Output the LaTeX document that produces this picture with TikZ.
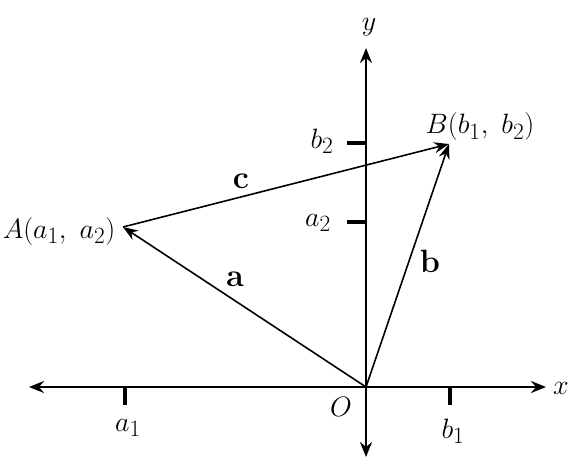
\documentclass[tikz,border=0pt]{standalone}
\usetikzlibrary{arrows.meta}
\begin{document}
\begin{tikzpicture}[x=1bp,y=-1bp,
  font=\fontsize{24.88}{30}\selectfont,
  axis/.style={line width=2.4bp},
  vec/.style={line width=1.6bp,-{Stealth[length=15bp,width=11bp,inset=5bp]}},
  tickmark/.style={line width=4bp},
  lbl/.style={inner sep=0pt,scale=1.13},
  boldlbl/.style={inner sep=0pt,scale=1.3}]
\useasboundingbox (0,0) rectangle (575,467);
\coordinate (O) at (366,387);
\coordinate (xl) at (29,387);
\coordinate (xr) at (546,387);
\coordinate (yt) at (366,48);
\coordinate (yb) at (366,457);
\coordinate (A) at (123,227);
\coordinate (B) at (449,144);
% axes
\draw[axis,{Stealth[length=15bp,width=12bp,inset=5bp]}-{Stealth[length=15bp,width=12bp,inset=5bp]}] (xl) -- (xr);
\draw[axis,{Stealth[length=15bp,width=12bp,inset=5bp]}-{Stealth[length=15bp,width=12bp,inset=5bp]}] (yb) -- (yt);
% ticks
\coordinate (b2s) at (347,143); \coordinate (b2e) at (366,143);
\coordinate (a2s) at (347,222); \coordinate (a2e) at (366,222);
\coordinate (a1s) at (125,387); \coordinate (a1e) at (125,405);
\coordinate (b1s) at (450,387); \coordinate (b1e) at (450,405);
\draw[tickmark] (b2s) -- (b2e);
\draw[tickmark] (a2s) -- (a2e);
\draw[tickmark] (a1s) -- (a1e);
\draw[tickmark] (b1s) -- (b1e);
% vectors
\draw[vec] (O) -- (A);
\draw[vec] (O) -- (B);
\draw[vec] (A) -- (B);
% labels
\node[lbl] (ylab) at (369,27) {$y$};
\node[lbl] (xlab) at (561,388) {$x$};
\node[lbl] (Olab) at (341,407) {$O$};
\node[lbl] (a1lab) at (128,428) {$a_1$};
\node[lbl] (b1lab) at (453,431) {$b_1$};
\node[lbl] (b2lab) at (322,141) {$b_2$};
\node[lbl] (a2lab) at (318,223) {$a_2$};
\node[lbl] (Alab) at (59,231) {$A(a_1,\ a_2)$};
\node[lbl] (Blab) at (480,127) {$B(b_1,\ b_2)$};
\node[boldlbl] (clab) at (241,181) {$\mathbf{c}$};
\node[boldlbl] (alab) at (235,279) {$\mathbf{a}$};
\node[boldlbl] (blab) at (430,261) {$\mathbf{b}$};
\end{tikzpicture}
\end{document}
